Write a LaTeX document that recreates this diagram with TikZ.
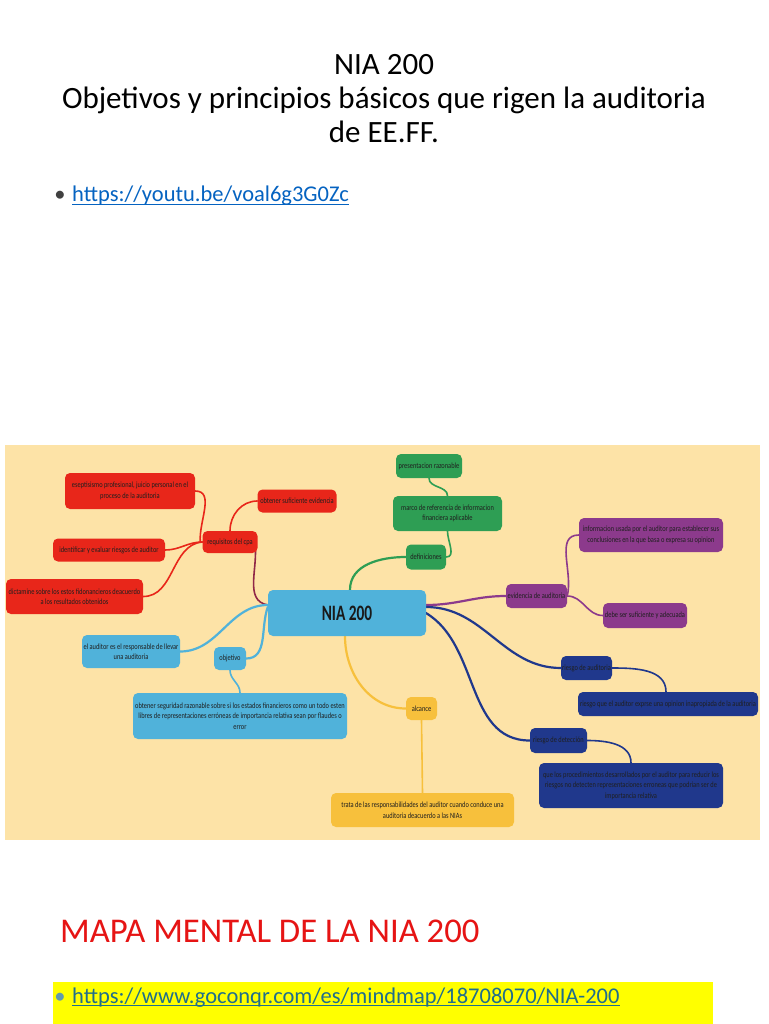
\documentclass[tikz,border=0pt]{standalone}
\usepackage{fontspec}
\setmainfont{Carlito}
\newfontfamily\nodefont[FakeStretch=0.8]{Carlito}
\newfontfamily\niafont[FakeStretch=0.7]{Carlito}
\usetikzlibrary{calc}
\pgfdeclarelayer{bglayer}
\pgfdeclarelayer{lines}
\pgfsetlayers{bglayer,lines,main}
\definecolor{bgpeach}{RGB}{253,227,167}
\definecolor{cblue}{RGB}{80,178,218}
\definecolor{cred}{RGB}{232,38,26}
\definecolor{cgreen}{RGB}{46,158,84}
\definecolor{cpurple}{RGB}{140,58,140}
\definecolor{cdark}{RGB}{32,56,140}
\definecolor{cyel}{RGB}{247,192,60}
\definecolor{linkblue}{RGB}{5,99,193}
\definecolor{linkteal}{RGB}{31,110,140}
\definecolor{mapred}{RGB}{230,20,20}
\definecolor{band}{RGB}{255,255,0}
\tikzset{
  mbox/.style={rounded corners=5pt, inner sep=1pt, align=center,
    font=\nodefont\fontsize{8}{10.5}\selectfont, text=black!88},
  wh/.style 2 args={minimum width=#1, minimum height=#2},
  conn/.style={line width=2.2pt, line cap=round},
  sub/.style={line width=1.6pt, line cap=round},
}
\begin{document}
\begin{tikzpicture}[x=1pt,y=-1pt]
\useasboundingbox (0,0) rectangle (768,1024);
\begin{pgfonlayer}{bglayer}
\fill[white] (0,0) rectangle (768,1024);
\fill[bgpeach] (5,445) rectangle (760,840);
\fill[band] (53,982) rectangle (713,1024);
\end{pgfonlayer}

% title
\node[anchor=base, font=\fontsize{31}{34}\selectfont, inner sep=0] (t1) at (384,75) {NIA 200};
\node[anchor=base, font=\fontsize{31}{34}\selectfont, inner sep=0] (t2) at (384,109) {Objetivos y principios básicos que rigen la auditoria};
\node[anchor=base, font=\fontsize{31}{34}\selectfont, inner sep=0] (t3) at (384,143) {de EE.FF.};

% link 1
\node[anchor=base, font=\fontsize{22.5}{26}\selectfont, text=black!75, inner sep=0] (b1) at (60,202) {•};
\node[anchor=base west, font=\fontsize{22.5}{26}\selectfont, text=linkblue, inner sep=0] (l1) at (72,202) {https://youtu.be/voal6g3G0Zc};
\draw[linkblue, line width=1pt] ([yshift=-2.8pt]l1.base west) -- ([yshift=-2.8pt]l1.base east);

% nodes
\node[mbox, wh={158}{46}, fill=cblue, font=\niafont\bfseries\fontsize{22}{24}\selectfont, text=black!90] (nia) at (347,613) {NIA 200};

\node[mbox, wh={130}{36}, fill=cred] (esc) at (130,491) {eseptisismo profesional, juicio personal en el\\proceso de la auditoria};
\node[mbox, wh={112}{23}, fill=cred] (ident) at (109,550) {identificar y evaluar riesgos de auditor};
\node[mbox, wh={137}{35}, fill=cred] (dict) at (74.5,596.5) {dictamine sobre los estos fidonancieros deacuerdo\\a los resultados obtenidos};
\node[mbox, wh={55}{22}, fill=cred] (req) at (230,542) {requisitos del cpa};
\node[mbox, wh={79}{23}, fill=cred] (obt) at (297,501) {obtener suficiente evidencia};

\node[mbox, wh={66}{24}, fill=cgreen] (pres) at (429,466) {presentacion razonable};
\node[mbox, wh={109}{35}, fill=cgreen] (marco) at (447.5,513.5) {marco de referencia de informacion\\financiera aplicable};
\node[mbox, wh={40}{25}, fill=cgreen] (defi) at (426,557) {definiciones};

\node[mbox, wh={61}{24}, fill=cpurple] (evid) at (536.5,596) {evidencia de auditoria};
\node[mbox, wh={144}{34}, fill=cpurple] (info) at (651,535) {informacion usada por el auditor para establecer sus\\conclusiones en la que basa o expresa su opinion};
\node[mbox, wh={84}{25}, fill=cpurple] (debe) at (645,615.5) {debe ser suficiente y adecuada};

\node[mbox, wh={51}{24}, fill=cdark] (raud) at (586.5,668) {riesgo de auditoria};
\node[mbox, wh={180}{24}, fill=cdark] (ropin) at (668,704) {riesgo que el auditor exprse una opinion inapropiada de la auditoria};
\node[mbox, wh={57}{25}, fill=cdark] (rdet) at (558.5,740.5) {riesgo de detección};
\node[mbox, wh={184}{45}, fill=cdark] (que) at (631,785.5) {que los procedimientos desarrollados por el auditor para reducir los\\riesgos no detecten representaciones erroneas que podrian ser de\\importancia relativa};

\node[mbox, wh={98}{33}, fill=cblue] (aud) at (131,651.5) {el auditor es el responsable de llevar\\una auditoria};
\node[mbox, wh={32}{23}, fill=cblue] (objet) at (230,658.5) {objetivo};
\node[mbox, wh={214}{46}, fill=cblue] (obten) at (240,716) {obtener seguridad razonable sobre si los estados financieros como un todo esten\\libres de representaciones erróneas de importancia relativa sean por flaudes o\\error};

\node[mbox, wh={31}{23}, fill=cyel] (alc) at (421.5,708.5) {alcance};
\node[mbox, wh={183}{34}, fill=cyel] (trata) at (422.5,810) {trata de las responsabilidades del auditor cuando conduce una\\auditoria deacuerdo a las NIAs};

% connectors
\begin{pgfonlayer}{lines}
\draw[sub, cred] (esc.east) to[out=0,in=95] ([xshift=-2pt]req.west);
\draw[sub, cred] (ident.east) to[out=0,in=180] (req.west);
\draw[sub, cred] (dict.east) to[out=0,in=185] (req.west);
\draw[sub, cred] (req.north) to[out=90,in=180] (obt.west);
\draw[sub, cred!45!cpurple!80!black] ([xshift=-3pt]req.east) to[out=-80,in=170] ($(nia.west)+(0,-8)$);

\draw[sub, cgreen] (pres.south) to[out=-90,in=90] (marco.north);
\draw[sub, cgreen] (marco.south) to[out=-90,in=0] (defi.east);
\draw[conn, cgreen] (defi.west) to[out=180,in=90] ([xshift=3pt]nia.north);

\draw[conn, cpurple] ($(nia.east)+(0,-8)$) to[out=0,in=180] (evid.west);
\draw[sub, cpurple] (evid.east) to[out=75,in=180] (info.west);
\draw[sub, cpurple] (evid.east) to[out=0,in=180] (debe.west);

\draw[conn, cdark] ($(nia.east)+(0,-6)$) to[out=0,in=180] (raud.west);
\draw[sub, cdark] (raud.east) to[out=0,in=90] ([xshift=-2pt]ropin.north);
\draw[conn, cdark] ($(nia.east)+(-6,-3)$) to[out=-25,in=180] (rdet.west);
\draw[sub, cdark] (rdet.east) to[out=0,in=90] (que.north);

\draw[conn, cblue] ($(nia.west)+(0,-8)$) to[out=180,in=0] (aud.east);
\draw[conn, cblue] ($(nia.west)+(0,-6)$) to[out=250,in=0] (objet.east);
\draw[sub, cblue] (objet.south) to[out=-90,in=90] (obten.north);

\draw[conn, cyel] ($(nia.south)+(-2,0)$) to[out=-90,in=180] (alc.west);
\draw[sub, cyel] (alc.south) -- (trata.north);
\end{pgfonlayer}

% heading 2
\node[anchor=base west, font=\fontsize{34.7}{40}\selectfont, text=mapred, inner sep=0] (map) at (60,942) {MAPA MENTAL DE LA NIA 200};

% link 2 in yellow band
\node[anchor=base, font=\fontsize{22.5}{26}\selectfont, text=linkteal!70, inner sep=0] (b2) at (60,1003) {•};
\node[anchor=base west, font=\fontsize{22.5}{26}\selectfont, text=linkteal, inner sep=0] (l2) at (72,1003) {https://www.goconqr.com/es/mindmap/18708070/NIA-200};
\draw[linkteal, line width=1pt] ([yshift=-2.8pt]l2.base west) -- ([yshift=-2.8pt]l2.base east);
\end{tikzpicture}
\end{document}
